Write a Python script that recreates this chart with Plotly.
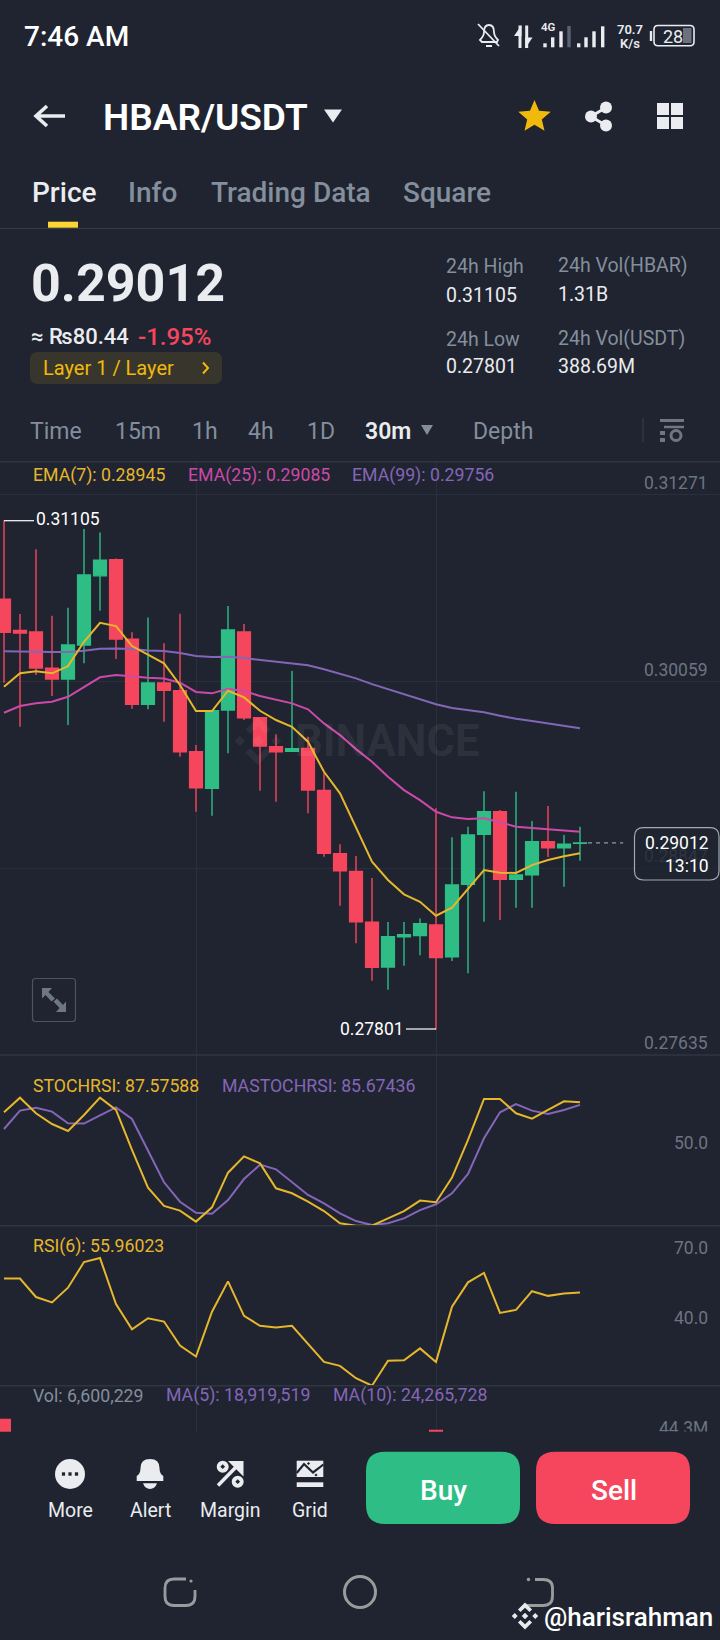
#!/usr/bin/env python
# coding: utf-8

import math
import plotly.graph_objects as go

# Candles
candle_open = [0.30595, 0.30392, 0.30381, 0.30147, 0.30076, 0.30297, 0.30746, 0.30850, 0.30334, 0.29912, 0.30050, 0.30000, 0.29604,
               0.29366, 0.29875, 0.30381, 0.29825, 0.29636, 0.29607, 0.29626, 0.29353, 0.28942, 0.28827, 0.28498, 0.28206, 0.28403,
               0.28410, 0.28479, 0.28273, 0.28743, 0.29068, 0.29214, 0.28776, 0.28805, 0.29020, 0.28981, 0.29009]
candle_close = [0.30379, 0.30375, 0.30147, 0.30076, 0.30297, 0.30751, 0.30848, 0.30336, 0.29912, 0.30050, 0.30003, 0.29604, 0.29370,
                0.29870, 0.30394, 0.29825, 0.29641, 0.29604, 0.29623, 0.29355, 0.28944, 0.28831, 0.28500, 0.28204, 0.28403, 0.28416,
                0.28487, 0.28267, 0.28739, 0.29063, 0.29214, 0.28776, 0.28804, 0.29020, 0.28981, 0.29003, 0.29012]
candle_high = [0.31105, 0.30498, 0.30918, 0.30487, 0.30539, 0.31050, 0.31028, 0.30859, 0.30379, 0.30476, 0.30308, 0.30500, 0.29647,
               0.29870, 0.30550, 0.30433, 0.29825, 0.29717, 0.30128, 0.29701, 0.29466, 0.29003, 0.28927, 0.28784, 0.28498, 0.28498,
               0.28522, 0.29237, 0.29048, 0.29117, 0.29347, 0.29226, 0.29344, 0.29154, 0.29251, 0.29063, 0.29117]
candle_low = [0.30052, 0.29766, 0.30102, 0.29966, 0.29777, 0.30178, 0.30519, 0.30206, 0.29883, 0.29879, 0.29799, 0.29572, 0.29214,
              0.29189, 0.29594, 0.29810, 0.29351, 0.29279, 0.29604, 0.29204, 0.28922, 0.28604, 0.28360, 0.28117, 0.28059, 0.28215,
              0.28282, 0.27801, 0.28245, 0.28165, 0.28500, 0.28511, 0.28591, 0.28591, 0.28920, 0.28728, 0.28896]

ema7 = [0.30026, 0.30113, 0.30126, 0.30113, 0.30160, 0.30318, 0.30441, 0.30420, 0.30290, 0.30232, 0.30178, 0.30037, 0.29868, 0.29868,
        0.30000, 0.29957, 0.29870, 0.29810, 0.29766, 0.29669, 0.29474, 0.29334, 0.29109, 0.28890, 0.28771, 0.28678, 0.28630, 0.28539,
        0.28591, 0.28717, 0.28836, 0.28818, 0.28817, 0.28868, 0.28901, 0.28925, 0.28945]
ema25 = [0.29857, 0.29901, 0.29918, 0.29929, 0.29961, 0.30022, 0.30087, 0.30102, 0.30091, 0.30084, 0.30080, 0.30052, 0.29992, 0.29983,
         0.30013, 0.29998, 0.29966, 0.29940, 0.29918, 0.29879, 0.29788, 0.29712, 0.29621, 0.29539, 0.29442, 0.29355, 0.29290, 0.29214,
         0.29178, 0.29167, 0.29172, 0.29146, 0.29117, 0.29109, 0.29100, 0.29094, 0.29085]
ema99 = [0.30256, 0.30256, 0.30253, 0.30251, 0.30251, 0.30260, 0.30273, 0.30275, 0.30271, 0.30262, 0.30258, 0.30245, 0.30225, 0.30219,
         0.30221, 0.30212, 0.30201, 0.30191, 0.30180, 0.30165, 0.30139, 0.30108, 0.30080, 0.30043, 0.30009, 0.29977, 0.29944, 0.29912,
         0.29888, 0.29875, 0.29860, 0.29838, 0.29818, 0.29803, 0.29788, 0.29773, 0.29756]

stochrsi = [80.4, 90.8, 79.7, 72.1, 67.2, 78.5, 90.8, 82.1, 53.7, 27.0, 14.0, 10.7, 2.9, 13.0, 37.6, 49.2, 44.2, 26.5, 23.0, 17.0, 10.4,
            1.7, 0.0, 0.0, 5.2, 10.4, 17.8, 16.6, 34.1, 60.8, 89.9, 89.9, 79.7, 75.9, 82.1, 88.2, 87.58]
mastochrsi = [68.6, 81.6, 83.7, 80.9, 72.6, 72.4, 78.3, 83.9, 75.7, 53.7, 30.8, 17.0, 9.2, 8.5, 18.2, 33.1, 43.3, 40.0, 30.8, 21.8, 15.9,
              8.8, 3.3, 0.5, 1.7, 5.2, 11.1, 15.2, 23.0, 36.7, 62.0, 80.4, 86.3, 81.6, 79.2, 82.1, 85.67]
rsi6 = [61.9, 61.9, 54.0, 51.7, 58.0, 69.0, 70.7, 51.0, 40.2, 44.9, 43.5, 33.2, 28.5, 47.7, 60.7, 45.9, 41.7, 41.0, 41.7, 33.9, 26.2,
        24.5, 19.2, 16.0, 26.7, 26.9, 32.0, 26.2, 49.9, 60.3, 64.3, 47.2, 48.5, 56.5, 54.5, 55.5, 55.96]

# only two volume bars reach above the bottom bar
volume_idx = [0, 27]
volume_vals = [52.6e6, 48.0e6]

candle_idx = list(range(len(candle_open)))
price_ticks = [0.31271, 0.30059, 0.28847, 0.27635]
rsi_ticks = [70.0, 40.0]
time_grid = [12, 27]
last_price = 0.29012

BG = "#1f2430"
GRID = "#2a303b"
SEP = "#303641"
GREEN = "#2ebd85"
RED = "#f6465d"
YELLOW = "#e6b62c"
MAGENTA = "#cb4aa9"
PURPLE = "#8466b8"
GREY = "#848e9c"
TICK = "#6c7482"
WHITE = "#eaecef"
FONT = "Roboto"

fig = go.Figure()


def pane(top, bottom):
    return [1 - bottom / 1640, 1 - top / 1640]


xrange_ = [-0.25, 44.75]
xcommon = dict(range=xrange_, tickmode="array", tickvals=time_grid, showticklabels=False, showgrid=True, gridcolor=GRID,
               gridwidth=1, zeroline=False, showline=False, ticks="", fixedrange=True)
ycommon = dict(showticklabels=False, zeroline=False, showline=False, ticks="", fixedrange=True)

fig.update_layout(
    width=720, height=1640, margin=dict(l=0, r=0, t=0, b=0), paper_bgcolor=BG, plot_bgcolor="rgba(0,0,0,0)", showlegend=False,
    boxgap=0.2, boxgroupgap=0, font=dict(family=FONT),
    xaxis=dict(xcommon, anchor="y", rangeslider=dict(visible=False)),
    xaxis2=dict(xcommon, anchor="y2"),
    xaxis3=dict(xcommon, anchor="y3"),
    xaxis4=dict(xcommon, anchor="y4"),
    xaxis5=dict(range=[0, 720], visible=False, anchor="y5", fixedrange=True),
    yaxis=dict(ycommon, domain=pane(461.7, 1055), range=[0.27635, 0.31487], tickmode="array", tickvals=price_ticks,
               showgrid=True, gridcolor=GRID, anchor="x"),
    yaxis2=dict(ycommon, domain=pane(1055, 1225.7), range=[0, 121.06], showgrid=False, anchor="x2"),
    yaxis3=dict(ycommon, domain=pane(1225.7, 1385.7), range=[16.0, 84.57], showgrid=False, anchor="x3"),
    yaxis4=dict(ycommon, domain=pane(1385.7, 1431.7), range=[47.2e6, 66.2e6], showgrid=False, anchor="x4"),
    yaxis5=dict(range=[1640, 0], domain=[0, 1], visible=False, anchor="x5", fixedrange=True),
)

fig.add_trace(go.Candlestick(
    x=candle_idx, open=candle_open, high=candle_high, low=candle_low, close=candle_close, whiskerwidth=0, hoverinfo="skip",
    increasing=dict(line=dict(color=GREEN, width=1.4), fillcolor=GREEN),
    decreasing=dict(line=dict(color=RED, width=1.4), fillcolor=RED),
))


def line_trace(values, color, xa, ya):
    return go.Scatter(x=candle_idx, y=values, mode="lines", line=dict(color=color, width=2), xaxis=xa, yaxis=ya,
                      hoverinfo="skip", cliponaxis=False)


fig.add_trace(line_trace(ema99, PURPLE, "x", "y"))
fig.add_trace(line_trace(ema25, MAGENTA, "x", "y"))
fig.add_trace(line_trace(ema7, YELLOW, "x", "y"))
fig.add_trace(line_trace(mastochrsi, PURPLE, "x2", "y2"))
fig.add_trace(line_trace(stochrsi, YELLOW, "x2", "y2"))
fig.add_trace(line_trace(rsi6, YELLOW, "x3", "y3"))
fig.add_trace(go.Bar(x=volume_idx, y=volume_vals, width=0.875, marker=dict(color=RED, line=dict(width=0)), xaxis="x4", yaxis="y4",
                     hoverinfo="skip"))
# axis pair in page pixels, for everything around the chart
fig.add_trace(go.Scatter(x=[0], y=[0], mode="markers", marker=dict(opacity=0), xaxis="x5", yaxis="y5", hoverinfo="skip"))

shapes = []
notes = []


def text(x, y, s, color=WHITE, size=18, anchor="left", weight=400, family=FONT):
    notes.append(dict(x=x, y=y, xref="x5", yref="y5", text=s, showarrow=False, xanchor=anchor, yanchor="middle", borderpad=0,
                      font=dict(color=color, size=size, family=family, weight=weight)))


def shape_path(d, fill=None, line=None, width=0):
    shapes.append(dict(type="path", path=d, xref="x5", yref="y5", layer="above", fillcolor=fill or "rgba(0,0,0,0)",
                       line=dict(color=line or "rgba(0,0,0,0)", width=width)))


def rect(x0, y0, x1, y1, fill):
    shapes.append(dict(type="rect", x0=x0, y0=y0, x1=x1, y1=y1, xref="x5", yref="y5", layer="above", fillcolor=fill, line=dict(width=0)))


def seg(x0, y0, x1, y1, color, width=1, dash="solid"):
    shapes.append(dict(type="line", x0=x0, y0=y0, x1=x1, y1=y1, xref="x5", yref="y5", layer="above",
                       line=dict(color=color, width=width, dash=dash)))


def circle(cx, cy, r, fill=None, line=None, width=0):
    shapes.append(dict(type="circle", x0=cx - r, y0=cy - r, x1=cx + r, y1=cy + r, xref="x5", yref="y5", layer="above",
                       fillcolor=fill or "rgba(0,0,0,0)", line=dict(color=line or "rgba(0,0,0,0)", width=width)))


def rrect(x0, y0, x1, y1, r):
    return (f"M{x0 + r},{y0} L{x1 - r},{y0} Q{x1},{y0} {x1},{y0 + r} L{x1},{y1 - r} Q{x1},{y1} {x1 - r},{y1} "
            f"L{x0 + r},{y1} Q{x0},{y1} {x0},{y1 - r} L{x0},{y0 + r} Q{x0},{y0} {x0 + r},{y0} Z")


def star(cx, cy, r):
    pts = []
    for k in range(10):
        rad = r if k % 2 == 0 else r * 0.45
        ang = -math.pi / 2 + k * math.pi / 5
        pts.append(f"{cx + rad * math.cos(ang):.1f},{cy + rad * math.sin(ang):.1f}")
    return "M" + " L".join(pts) + " Z"


def diamond(cx, cy, h):
    return f"M{cx},{cy - h} L{cx + h},{cy} L{cx},{cy + h} L{cx - h},{cy} Z"


def binance_logo(cx, cy, r, fill):
    shape_path(diamond(cx, cy, 0.24 * r), fill)
    shape_path(diamond(cx - 0.76 * r, cy, 0.22 * r), fill)
    shape_path(diamond(cx + 0.76 * r, cy, 0.22 * r), fill)
    for s in [-1, 1]:
        shape_path(f"M{cx},{cy + s * r} L{cx + 0.52 * r},{cy + s * 0.48 * r} L{cx + 0.33 * r},{cy + s * 0.29 * r} L{cx},{cy + s * 0.62 * r} "
                   f"L{cx - 0.33 * r},{cy + s * 0.29 * r} L{cx - 0.52 * r},{cy + s * 0.48 * r} Z", fill)


# Watermark, faint enough to sit over the candles
text(294, 741.5, "BINANCE", "rgba(255,255,255,0.07)", 43.5, weight=700)
binance_logo(258, 741, 24, "rgba(255,255,255,0.055)")

# Pane separators
seg(0, 461.7, 720, 461.7, SEP, 1.5)
seg(0, 1055, 720, 1055, SEP, 1.5)
seg(0, 1225.7, 720, 1225.7, SEP, 1.5)
seg(0, 1385.7, 720, 1385.7, SEP, 1.5)

# Chart legends
text(31.5, 475.7, "EMA(7): 0.28945", YELLOW, 17.7)
text(186.5, 475.7, "EMA(25): 0.29085", MAGENTA, 17.7)
text(351, 475.7, "EMA(99): 0.29756", PURPLE, 17.7)
text(31.5, 1085.7, "STOCHRSI: 87.57588", YELLOW, 17.7)
text(221, 1085.7, "MASTOCHRSI: 85.67436", PURPLE, 17.7)
text(31.5, 1246, "RSI(6): 55.96023", YELLOW, 17.7)
text(31.5, 1395.7, "Vol: 6,600,229", GREY, 17.7)
text(164.5, 1395.7, "MA(5): 18,919,519", PURPLE, 17.7)
text(331.5, 1395.7, "MA(10): 24,265,728", PURPLE, 17.7)

# Axis labels sit a little above the value they mark
for tick in price_ticks:
    faint = tick == 0.28847
    notes.append(dict(x=709, y=tick, xref="x5", yref="y", yshift=12, text=f"{tick:.5f}", showarrow=False, xanchor="right", yanchor="middle",
                      borderpad=0, font=dict(color="rgba(108,116,130,0.22)" if faint else TICK, size=17.5, family=FONT)))
notes.append(dict(x=709, y=50.0, xref="x5", yref="y2", yshift=12, text="50.0", showarrow=False, xanchor="right", yanchor="middle",
                  borderpad=0, font=dict(color=TICK, size=17.5, family=FONT)))
for tick in rsi_ticks:
    notes.append(dict(x=709, y=tick, xref="x5", yref="y3", yshift=12, text=f"{tick:.1f}", showarrow=False, xanchor="right", yanchor="middle",
                      borderpad=0, font=dict(color=TICK, size=17.5, family=FONT)))
text(709, 1428, "44.3M", TICK, 17.5, "right")

# High and low markers
seg(4, 520.7, 34, 520.7, "#ffffff", 1.2)
text(34.5, 519, "0.31105", "#ffffff", 17.5)
seg(406, 1029, 436, 1029, "#ffffff", 1.2)
text(404.5, 1028.5, "0.27801", "#ffffff", 17.5, "right")

# Last price tag
shapes.append(dict(type="line", x0=36.5, x1=38.7, y0=last_price, y1=last_price, xref="x", yref="y", layer="above",
                   line=dict(color="#8f96a3", width=1.2, dash="4px,4px")))
shape_path(rrect(634.5, 827.7, 719, 880, 9), "rgba(31,36,48,0.72)", "#a3a8b1", 1.2)
text(709.5, 843, "0.29012", "#ffffff", 17.5, "right")
text(709.5, 865.7, "13:10", "#ffffff", 17.5, "right")

# Expand button
shape_path(rrect(32.5, 978.5, 75.5, 1021.5, 3), None, "#4c5361", 1.2)
shape_path("M42,988 L52,988 L48.5,992 L55,998.5 L51.5,1001.5 L45.5,995 L42,998.5 Z", "#6f7785")
shape_path("M66,1012 L56,1012 L59.5,1008 L53.5,1001.5 L57,998.5 L63,1005 L66,1001.5 Z", "#6f7785")

# Cover for the cut-off bottom edge of the volume axis label
notes.append(dict(x=680, y=1441, xref="x5", yref="y5", text=" ", showarrow=False, width=80, height=18, bgcolor=BG,
                  xanchor="center", yanchor="middle", borderpad=0))

# Status bar
text(23, 36.5, "7:46 AM", "#ffffff", 28, weight=500)
shape_path("M482,42 L480,40 Q484,36 484,32 Q484,25 489,25 Q494,25 494,32 Q494,36 498,40 L497,42 Z", None, WHITE, 1.8)
seg(478, 24, 499, 46, WHITE, 1.8)
seg(486, 46, 492, 46, WHITE, 2)
seg(520, 25.5, 520, 48, WHITE, 3)
shape_path("M521.5,25 L521.5,36 L514,36 Z", WHITE)
seg(526.7, 25.5, 526.7, 48, WHITE, 3)
shape_path("M525.2,48.5 L525.2,37.5 L532.5,37.5 Z", WHITE)
text(548, 26.7, "4G", WHITE, 11.5, "center", 600)
for bx, bh in zip([545, 552.7, 561], [4, 10, 16]):
    rect(bx - 1.7, 47.3 - bh, bx + 1.7, 47.3, WHITE)
rect(567.3, 26, 570.7, 47.3, "#5c6370")
for bx, bh in zip([578.7, 586, 594, 602.7], [4, 10, 16, 21]):
    rect(bx - 1.7, 47.3 - bh, bx + 1.7, 47.3, WHITE)
text(630, 29, "70.7", WHITE, 13, "center", 600)
text(630, 43, "K/s", WHITE, 13, "center", 600)
shape_path(rrect(654, 25.5, 694, 45.7, 4), None, WHITE, 1.6)
seg(651, 31, 651, 41, WHITE, 2.4)
rect(683, 28, 691.5, 43, "#6b7180")
text(672.5, 36, "28", WHITE, 18, "center")

# Header
shape_path("M65,116 L37,116 M47,106 L36,116 L47,126", None, WHITE, 3.6)
text(102, 117.5, "HBAR/USDT", "#ffffff", 37, weight=600)
shape_path("M324,109.5 L342,109.5 L333,122.5 Z", WHITE)
shape_path(star(534.5, 117, 17), "#f0b90b")
circle(606, 107.5, 6, WHITE)
circle(591, 116.5, 6, WHITE)
circle(606, 125.5, 6, WHITE)
seg(606, 107.5, 591, 116.5, WHITE, 3)
seg(591, 116.5, 606, 125.5, WHITE, 3)
for gx, gy in [(657, 103), (671, 103), (657, 117), (671, 117)]:
    rect(gx, gy, gx + 12, gy + 12, WHITE)

# Tabs
text(31, 192.7, "Price", WHITE, 28, weight=500)
text(126.5, 192.7, "Info", GREY, 28, weight=500)
text(210, 192.7, "Trading Data", GREY, 28, weight=500)
text(402, 192.7, "Square", GREY, 28, weight=500)
rect(48, 221.7, 78, 227.7, "#fcd535")
seg(0, 228.5, 720, 228.5, "#353b47", 1)

# Ticker block
text(30, 283, "0.29012", WHITE, 52, weight=700)
text(30, 336.7, "≈ ₨80.44", WHITE, 22, weight=500)
text(137, 336.7, "-1.95%", RED, 24, weight=500)
shape_path(rrect(30, 352, 222, 384, 8), "#38362c")
text(42, 368.3, "Layer 1 / Layer", "#f0b90b", 20)
shape_path("M203,362.5 L208,368 L203,373.5", None, "#f0b90b", 2)
text(445, 266.7, "24h High", GREY, 19.5)
text(445, 295, "0.31105", WHITE, 19.5)
text(445, 339, "24h Low", GREY, 19.5)
text(445, 366.7, "0.27801", WHITE, 19.5)
text(557, 265, "24h Vol(HBAR)", GREY, 19.5)
text(557, 294.3, "1.31B", WHITE, 19.5)
text(557, 338, "24h Vol(USDT)", GREY, 19.5)
text(557, 366, "388.69M", WHITE, 19.5)

# Interval row
text(29, 431.7, "Time", GREY, 23)
text(114, 431.7, "15m", GREY, 23)
text(191, 431.7, "1h", GREY, 23)
text(247, 431.7, "4h", GREY, 23)
text(306, 431.7, "1D", GREY, 23)
text(364, 431.7, "30m", WHITE, 23, weight=600)
shape_path("M421,425 L433,425 L427,435 Z", GREY)
text(472, 431.7, "Depth", GREY, 23)
seg(643, 418, 643, 442, "#353b47", 1.2)
rect(660, 419, 684, 422, "#6f7785")
shape_path("M664,427 L684,427", None, "#6f7785", 2.5)
rect(660, 431, 665, 435, "#6f7785")
rect(660, 438, 665, 442, "#6f7785")
circle(676, 435.5, 5, None, "#6f7785", 3)

# Bottom toolbar
circle(70, 1474, 15, WHITE)
for dx in [63.5, 70, 76.5]:
    rect(dx - 1.6, 1472.3, dx + 1.6, 1475.7, BG)
shape_path("M136.7,1476 Q140.5,1474 140.5,1468 Q140.5,1459 150,1459 Q159.5,1459 159.5,1468 Q159.5,1474 163.3,1476 L163.3,1481 L136.7,1481 Z", WHITE)
shape_path("M143,1483.3 L157,1483.3 Q155,1489 150,1489 Q145,1489 143,1483.3 Z", WHITE)
seg(218, 1485.5, 239, 1464, WHITE, 3.5)
shape_path("M228,1461 L243.5,1461 L243.5,1476.5 Z", WHITE)
circle(222.7, 1466.7, 6, WHITE)
shape_path(diamond(222.7, 1466.7, 2.4), BG)
circle(237.7, 1481.7, 6, WHITE)
shape_path(diamond(237.7, 1481.7, 2.4), BG)
rect(296.7, 1460.7, 323.3, 1477, WHITE)
shape_path("M296.7,1473 L304,1464 L313,1472.5 L319,1468 L323.3,1464.5", None, BG, 2.2)
shape_path(diamond(308.5, 1463.5, 1.6), BG)
shape_path(diamond(316, 1475, 1.6), BG)
rect(296.7, 1482.3, 323.3, 1487, WHITE)
text(70, 1510, "More", WHITE, 19.5, "center")
text(150, 1510, "Alert", WHITE, 19.5, "center")
text(230.5, 1510, "Margin", WHITE, 19.5, "center")
text(309.5, 1510, "Grid", WHITE, 19.5, "center")
shape_path(rrect(366, 1451.7, 520, 1524, 19), GREEN)
shape_path(rrect(536, 1451.7, 690, 1524, 19), RED)
text(443, 1490, "Buy", "#ffffff", 28, "center", 500)
text(613.5, 1490, "Sell", "#ffffff", 28, "center", 500)

# Android nav bar
NAV = "#9a9b9d"
shape_path("M186,1579 L174,1579 Q165,1579 165,1588 L165,1596 Q165,1605.5 174,1605.5 L186,1605.5 Q195,1605.5 195,1596 L195,1590", None, NAV, 2.8)
circle(191, 1581, 1.6, NAV)
circle(360, 1592, 15.5, None, NAV, 3)
shape_path("M535,1579.5 L543,1579.5 Q552.5,1579.5 552.5,1588 L552.5,1596 Q552.5,1605.5 543,1605.5 L526,1605.5", None, NAV, 2.8)
circle(528.5, 1579.5, 1.8, NAV)

# Repost badge
binance_logo(525, 1616, 13.5, "#e9eaec")
text(543, 1616.7, "@harisrahman", "#ffffff", 26, weight=500)

fig.update_layout(shapes=shapes, annotations=notes)
fig.write_html("out.html", config=dict(displayModeBar=False), post_script=f"document.body.style.margin='0';document.body.style.background='{BG}';")
